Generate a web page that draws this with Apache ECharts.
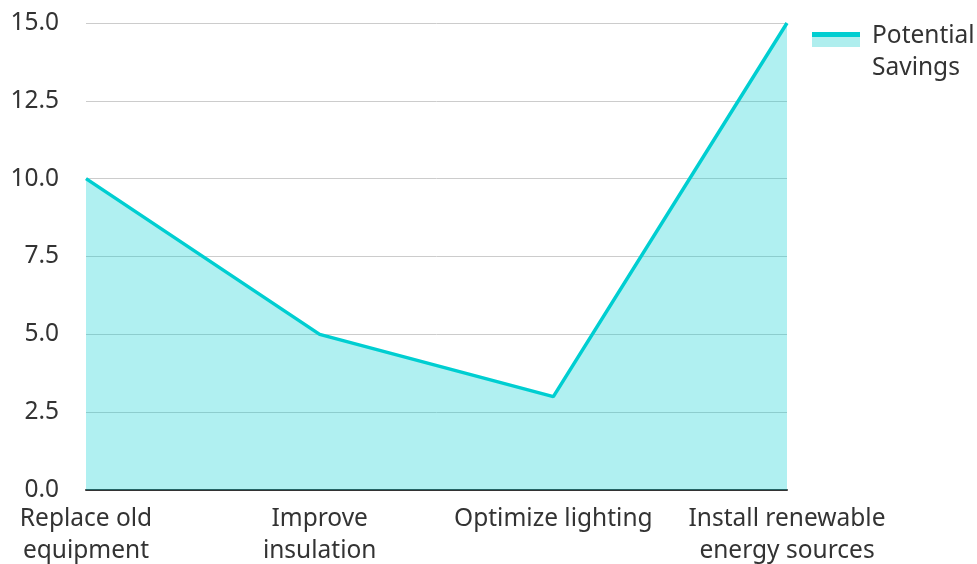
<!DOCTYPE html>
<html>
<head>
<meta charset="utf-8">
<script src="https://cdn.jsdelivr.net/npm/echarts@6/dist/echarts.min.js"></script>
<style>
html, body { margin: 0; padding: 0; background: #fff; }
#chart { width: 977px; height: 564px; }
</style>
</head>
<body>
<div id="chart"></div>
<script>
// 数据
var categories = ['Replace old\nequipment', 'Improve\ninsulation', 'Optimize lighting', 'Install renewable\nenergy sources'];
var savings = [10, 5, 3, 15];
var seriesName = 'Potential Savings';

var lineColor = '#00CED1';
var areaColor = '#AFEEEE';

var myChart = echarts.init(document.getElementById('chart'));

// 图例图标：上面一条线，下面浅色块
var legendIconColor = new echarts.graphic.LinearGradient(0, 0, 0, 1, [
	{ offset: 0, color: lineColor },
	{ offset: 0.125, color: lineColor },
	{ offset: 0.125, color: areaColor },
	{ offset: 0.375, color: areaColor },
	{ offset: 0.375, color: 'rgba(255,255,255,0)' },
	{ offset: 1, color: 'rgba(255,255,255,0)' }
]);

var option = {
	backgroundColor: '#fff',
	textStyle: { fontFamily: 'Noto Sans' },
	legend: {
		orient: 'vertical',
		left: 807,
		top: 15,
		icon: 'rect',
		itemWidth: 48,
		itemHeight: 40,
		data: [seriesName],
		itemStyle: { color: legendIconColor, borderWidth: 0 },
		formatter: function(name) {
			return name.replace(' ', '\n');
		},
		textStyle: {
			fontSize: 24.5,
			color: '#333',
			lineHeight: 32,
			padding: [0, 0, 0, 7],
			fontFamily: 'Noto Sans'
		}
	},
	grid: {
		left: 86,
		right: 190,
		top: 23,
		bottom: 74,
		outerBoundsMode: 'none'
	},
	xAxis: {
		type: 'category',
		boundaryGap: false,
		data: categories,
		axisLine: { lineStyle: { color: '#333', width: 2 } },
		axisTick: { show: false },
		axisLabel: {
			interval: 0,
			margin: 13,
			fontSize: 24.5,
			lineHeight: 32,
			color: '#333',
			fontFamily: 'Noto Sans'
		},
		splitLine: { show: false }
	},
	yAxis: {
		type: 'value',
		min: 0,
		max: 15,
		interval: 2.5,
		axisLine: { show: false },
		axisTick: { show: false },
		axisLabel: {
			margin: 27,
			fontSize: 24.5,
			color: '#333',
			fontFamily: 'Noto Sans',
			formatter: function(v) { return v.toFixed(1); }
		},
		splitLine: { lineStyle: { color: '#ccc', width: 1 } }
	},
	series: [{
		name: seriesName,
		type: 'line',
		data: savings,
		showSymbol: false,
		symbol: 'none',
		lineStyle: { color: lineColor, width: 3.5 },
		itemStyle: { color: lineColor },
		// 半透明面积，让网格线透出来
		areaStyle: { color: lineColor, opacity: 0.31 }
	}]
};

myChart.setOption(option);
</script>
</body>
</html>
